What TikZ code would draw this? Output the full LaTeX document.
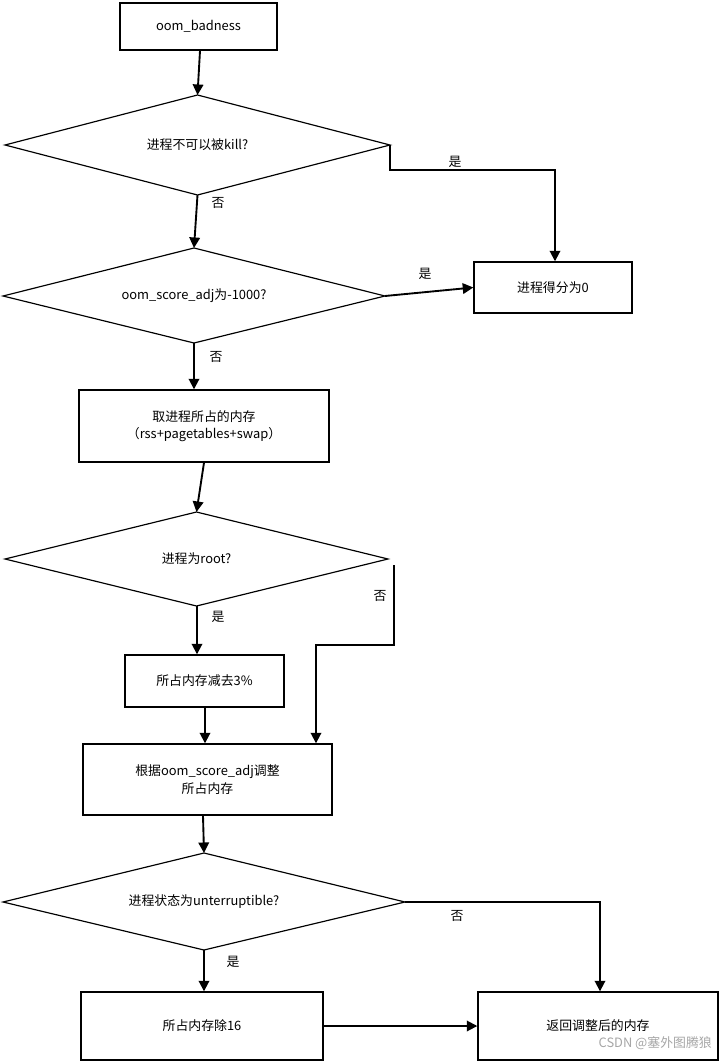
\documentclass[tikz,border=0pt]{standalone}
\usepackage{fontspec}
\setmainfont{Noto Sans CJK SC}
\usetikzlibrary{arrows.meta}
\begin{document}
\begin{tikzpicture}[x=0.03cm,y=-0.03cm,
  box/.style={draw,line width=1.2pt,inner sep=0pt,align=center,font=\fontsize{11}{15}\selectfont},
  lbl/.style={font=\fontsize{11}{13}\selectfont},
  dia/.style={draw,line width=1pt},
  ar/.style={line width=1.6pt,-{Triangle[length=9pt,width=9pt]}},
  ln/.style={line width=1.6pt}]
\useasboundingbox (0,0) rectangle (720,1063);
\newcommand{\bx}[6]{\node[box,minimum width=#4*0.03cm,minimum height=#5*0.03cm] (#1) at (#2,#3) {#6};}
\bx{b1}{198.5}{26.5}{157}{47}{oom\_badness}
\bx{b2}{553}{287.5}{158}{51}{进程得分为0}
\bx{b3}{204}{426}{250}{72}{取进程所占的内存\\（rss+pagetables+swap）}
\bx{b4}{204.5}{681}{159}{52}{所占内存减去3\%}
\bx{b5}{207.5}{779.5}{249}{71}{根据oom\_score\_adj调整\\所占内存}
\bx{b6}{202}{1026}{242}{68}{所占内存除16}
\bx{b7}{598}{1026}{240}{68}{返回调整后的内存}
% diamonds
\newcommand{\dm}[7]{%
 \coordinate (#1l) at (#2,#4); \coordinate (#1r) at (#3,#4);
 \coordinate (#1t) at ({(#2+#3)/2},#5); \coordinate (#1b) at ({(#2+#3)/2},#6);
 \draw[dia] (#1l)--(#1t)--(#1r)--(#1b)--cycle;
 \node[lbl] (#1) at ({(#2+#3)/2},#4) {#7};}
\dm{d1}{5}{390}{145}{95}{195}{进程不可以被kill?}
\dm{d2}{3}{385}{296}{248}{343}{oom\_score\_adj为-1000?}
\dm{d3}{5}{388}{559}{512}{606}{进程为root?}
\dm{d4}{3}{405}{902}{853}{950}{进程状态为unterruptible?}
% connectors
\draw[ar] (b1.south -| 200,0) -- (d1t);
\draw[ar] (d1b) -- (d2t);
\node[lbl] at (218,203) {否};
\draw[ar] (d1r) -- (390,170) -- (555,170) -- (b2.north -| 555,0);
\node[lbl] at (455,162) {是};
\draw[ar] (d2r) -- (b2.west);
\node[lbl] at (425,274) {是};
\draw[ar] (d2b) -- (b3.north -| d2b);
\node[lbl] at (216,357) {否};
\draw[ar] (b3.south) -- (d3t);
\draw[ar] (d3b -| 197,0) -- (b4.north -| 197,0);
\node[lbl] at (218,617) {是};
\coordinate (c3) at (394,565);
\draw[ar] (c3) -- (394,645) -- (316,645) -- (b5.north -| 316,0);
\node[lbl] at (380,596) {否};
\draw[ar] (b4.south -| 205,0) -- (b5.north -| 205,0);
\draw[ar] (b5.south -| 203,0) -- (d4t);
\draw[ar] (d4b) -- (b6.north -| d4b);
\node[lbl] at (233,962) {是};
\draw[ar] (d4r) -- (600,902) -- (b7.north -| 600,0);
\node[lbl] at (457,916) {否};
\draw[ar] (b6.east) -- (b7.west);
\node[font=\fontsize{11}{13}\selectfont,text=gray!70,anchor=east] (wm) at (716,1043) {CSDN @塞外图腾狼};
\end{tikzpicture}
\end{document}
